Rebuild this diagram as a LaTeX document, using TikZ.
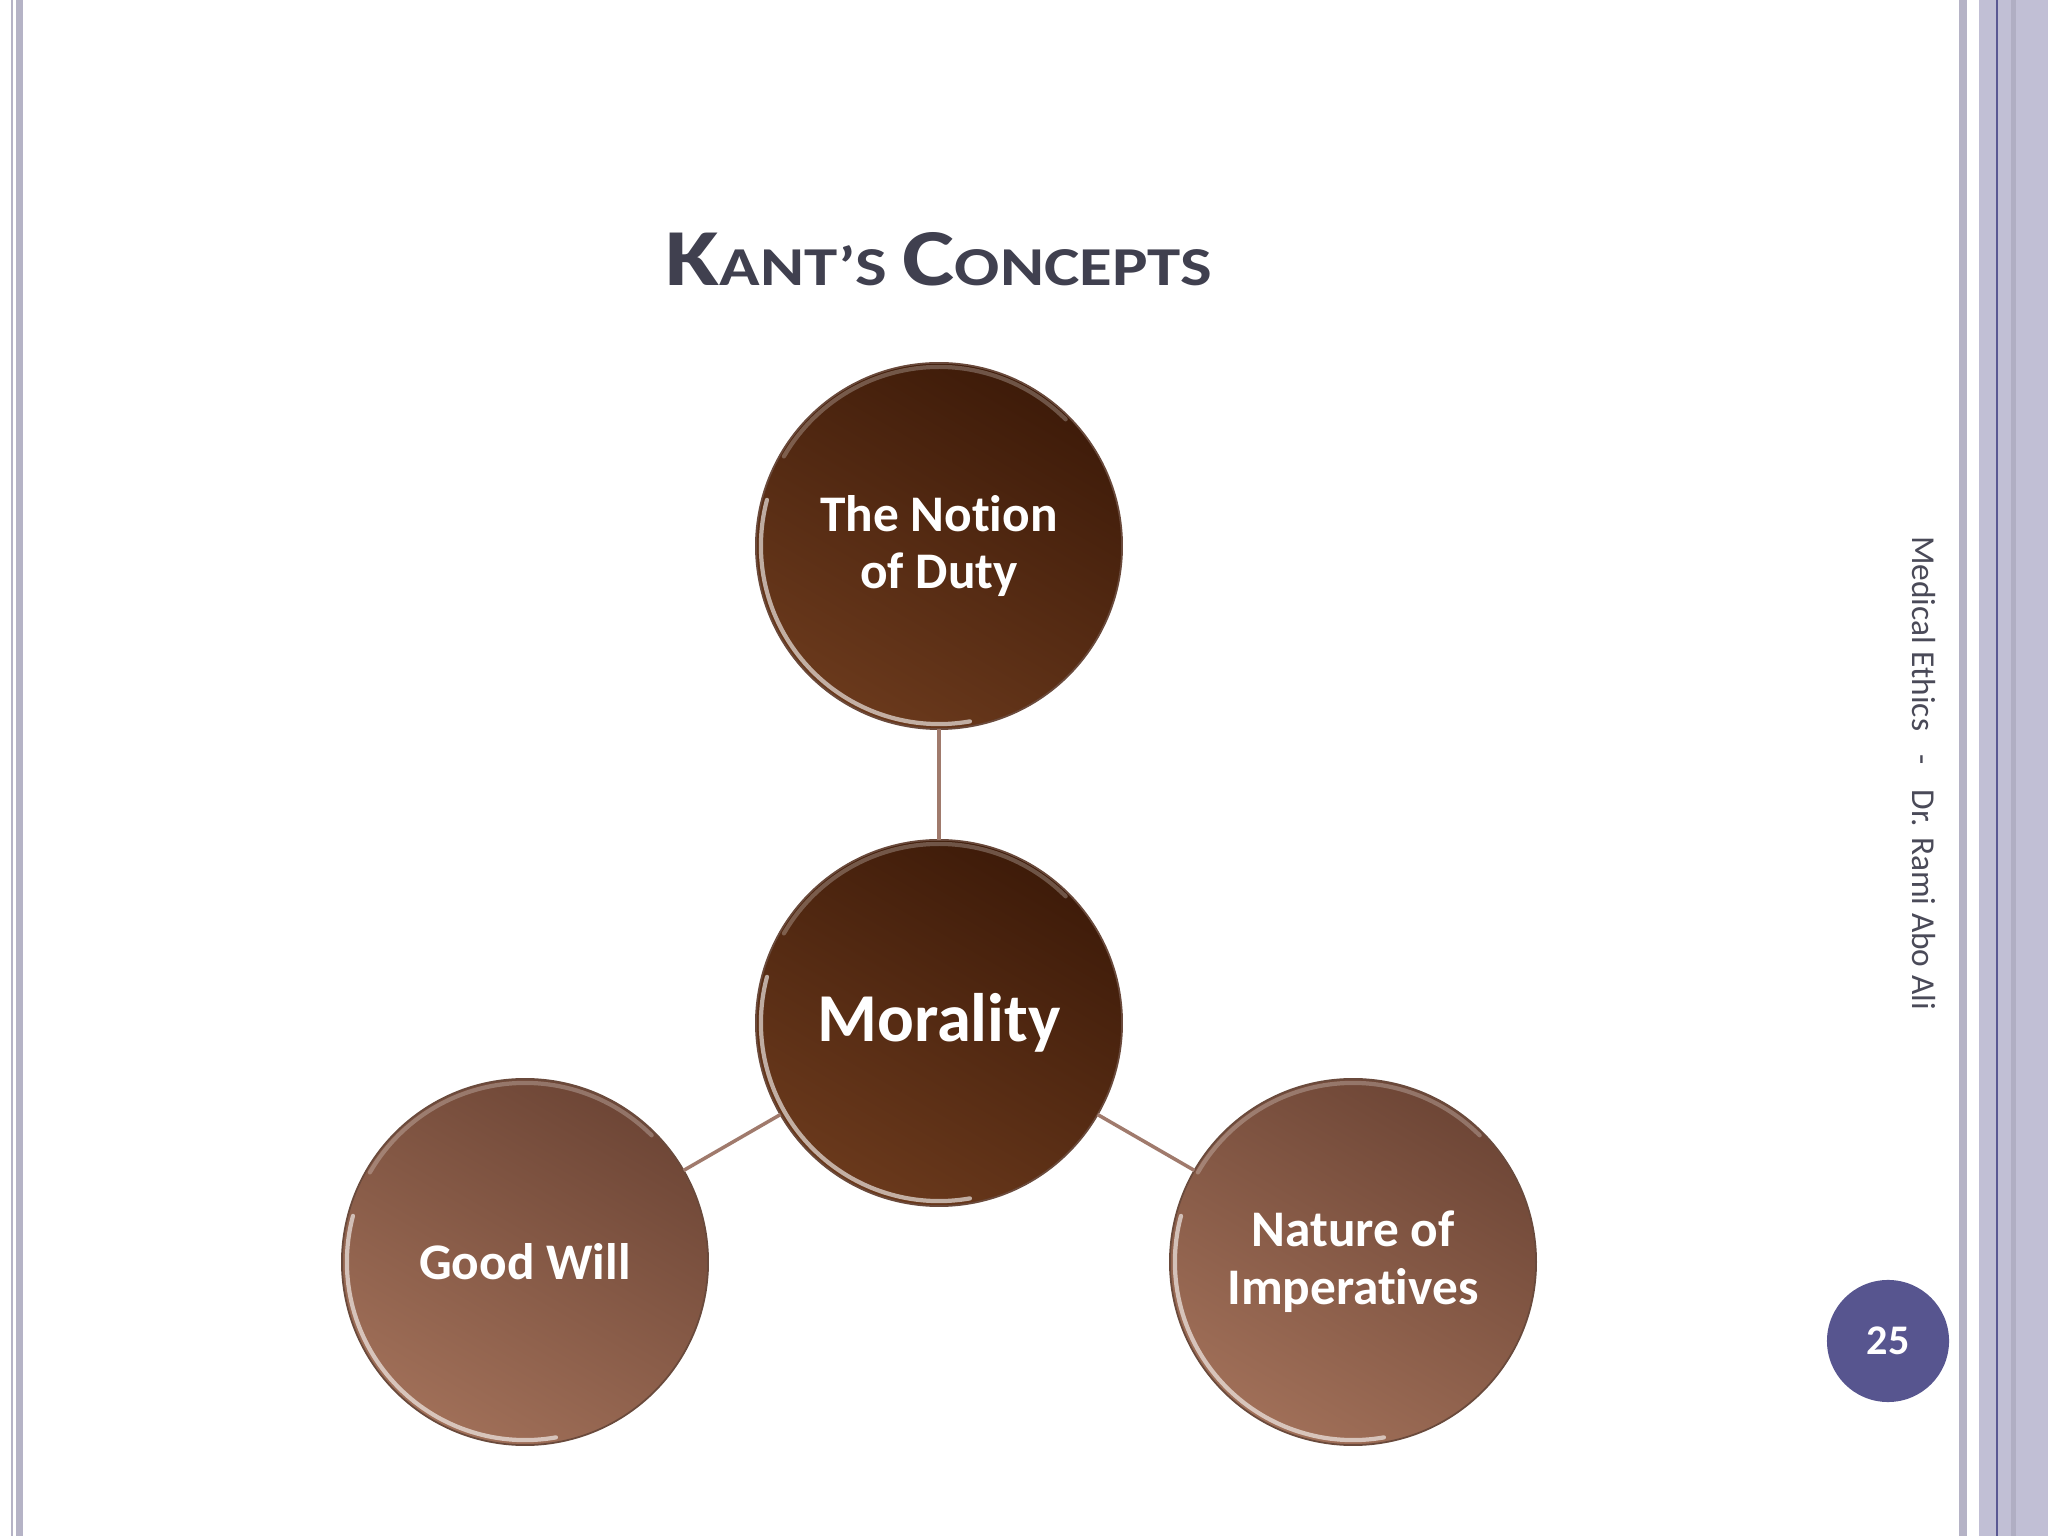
\documentclass[tikz,border=0pt]{standalone}
\usepackage{fontspec}
\setmainfont{Carlito}[Ligatures=NoCommon]
\newfontfamily\titlefont[FakeStretch=1.22,Ligatures=NoCommon]{Carlito}
\definecolor{titlec}{HTML}{40404F}
\definecolor{darkA}{HTML}{3E1B09}
\definecolor{darkB}{HTML}{6A391C}
\definecolor{lightA}{HTML}{6E4636}
\definecolor{lightB}{HTML}{A06F58}
\definecolor{rimout}{HTML}{6A4A3C}
\definecolor{conn}{HTML}{A07A6C}
\definecolor{pagec}{HTML}{57558F}
\definecolor{bordgray}{HTML}{B5B3C6}
\definecolor{bordfill}{HTML}{C1BFD5}
\definecolor{bordline}{HTML}{5A5893}
\definecolor{borddark}{HTML}{B0AEC3}
\definecolor{sidec}{HTML}{4A4A58}
\tikzset{
  ball/.style={circle, minimum size=3.66cm, inner sep=0pt, outer sep=0pt,
    draw=rimout, line width=0.5pt, align=center, text=white,
    font=\bfseries\fontsize{14.6}{16.4}\selectfont},
  darkball/.style={ball, top color=darkA, bottom color=darkB, shading angle=-30},
  lightball/.style={ball, top color=lightA, bottom color=lightB, shading angle=-30},
  rimhi/.style={draw=white, opacity=0.6, line width=1.2pt, line cap=round},
  rimsoft/.style={draw=white, opacity=0.25, line width=1.2pt, line cap=round},
  connector/.style={draw=conn, line width=1pt},
}
\begin{document}
\begin{tikzpicture}[x=0.01cm, y=0.01cm]
\useasboundingbox (0,0) rectangle (2048,1536);
\fill[white] (0,0) rectangle (2048,1536);
% borders
\fill[bordgray] (10.7,0) rectangle (12.7,1536);
\fill[bordgray] (15.7,0) rectangle (23.3,1536);
\fill[bordgray] (1958.7,0) rectangle (1966.7,1536);
\fill[bordfill] (1979,0) rectangle (2048,1536);
\fill[bordline] (1995.5,0) rectangle (1997.5,1536);
\fill[borddark] (2011,0) rectangle (2016,1536);
% title
\node[anchor=base, text=titlec, font=\titlefont\bfseries, inner sep=0pt] (title) at (939,1250)
  {\fontsize{23}{28}\selectfont K\fontsize{15.6}{18}\selectfont ANT’S \fontsize{23}{28}\selectfont C\fontsize{15.6}{18}\selectfont ONCEPTS};
% circles
\node[darkball] (T) at (939,990) {The Notion\\of Duty};
\node[darkball, font=\bfseries\fontsize{19.5}{23}\selectfont] (M) at (939,513) {Morality};
\node[lightball] (G) at (525,274) {Good Will};
\node[lightball] (N) at (1353,274) {Nature of\\Imperatives};
% connectors
\draw[connector] (T) -- (M);
\draw[connector] (M) -- (G);
\draw[connector] (M) -- (N);
% rim highlights
\foreach \n in {T,M,G,N}{
  \draw[rimhi] ([shift={(165:1.78cm)}]\n.center) arc[start angle=165, end angle=280, radius=1.78cm];
  \draw[rimsoft] ([shift={(45:1.79cm)}]\n.center) arc[start angle=45, end angle=150, radius=1.79cm];
}
% side text
\node[rotate=-90, anchor=base, text=sidec, font=\fontsize{9.5}{12}\selectfont, inner sep=0pt] (side) at (1912,763)
  {Medical Ethics\hspace{0.7em}-\hspace{0.75em}Dr. Rami Abo Ali};
% page number
\node[circle, fill=pagec, minimum size=1.22cm, inner sep=0pt, text=white,
  font=\bfseries\fontsize{12}{14}\selectfont] (pg) at (1888,195) {25};
\end{tikzpicture}
\end{document}
